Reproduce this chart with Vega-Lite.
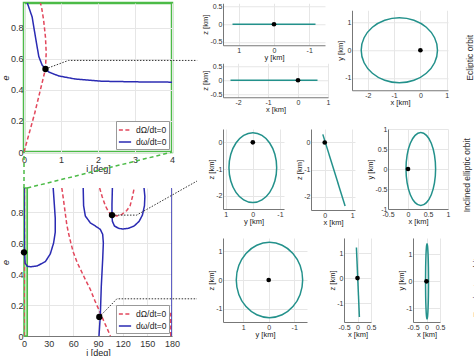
{
 "$schema": "https://vega.github.io/schema/vega-lite/v6.json",
 "padding": {"left": 0, "top": 1, "right": 0, "bottom": 0},
 "config": {
  "font": "Liberation Sans",
  "view": {"stroke": null},
  "axis": {"labelFontSize": 7, "titleFontSize": 7.5, "titleFontWeight": "normal", "labelColor": "#333", "titleColor": "#222", "gridColor": "#e6e6e6", "domainColor": "#777", "ticks": false, "labelPadding": 1, "titlePadding": 0, "format": ".1~f", "labelOverlap": false, "labelFlush": false, "labelExpr": "replace(datum.label, '\u2212', '-')"},
  "title": {"fontSize": 8.5, "fontWeight": "normal", "color": "#333"},
  "legend": {"orient": "bottom-right", "labelFontSize": 8.5, "symbolType": "stroke", "symbolStrokeWidth": 1.5, "symbolSize": 150, "padding": 2, "rowPadding": 0, "offset": 3, "strokeColor": "#999", "fillColor": "white", "labelColor": "#222"}
 },
 "datasets": {
  "curves": [
   {"p":"z","s":"dΩ/dt=0","g":"zr","k":0,"i":0,"e":0},
   {"p":"z","s":"dΩ/dt=0","g":"zr","k":1,"i":0.29,"e":0.25},
   {"p":"z","s":"dΩ/dt=0","g":"zr","k":2,"i":0.58,"e":0.535},
   {"p":"z","s":"dΩ/dt=0","g":"zr","k":3,"i":0.6,"e":0.64},
   {"p":"z","s":"dΩ/dt=0","g":"zr","k":4,"i":0.58,"e":0.74},
   {"p":"z","s":"dΩ/dt=0","g":"zr","k":5,"i":0.53,"e":0.85},
   {"p":"z","s":"dΩ/dt=0","g":"zr","k":6,"i":0.47,"e":0.94},
   {"p":"z","s":"dΩ/dt=0","g":"zr","k":7,"i":0.44,"e":0.96},
   {"p":"z","s":"dω/dt=0","g":"zb","k":0,"i":0.09,"e":0.96},
   {"p":"z","s":"dω/dt=0","g":"zb","k":1,"i":0.22,"e":0.87},
   {"p":"z","s":"dω/dt=0","g":"zb","k":2,"i":0.31,"e":0.74},
   {"p":"z","s":"dω/dt=0","g":"zb","k":3,"i":0.4,"e":0.615},
   {"p":"z","s":"dω/dt=0","g":"zb","k":4,"i":0.49,"e":0.56},
   {"p":"z","s":"dω/dt=0","g":"zb","k":5,"i":0.58,"e":0.535},
   {"p":"z","s":"dω/dt=0","g":"zb","k":6,"i":0.67,"e":0.515},
   {"p":"z","s":"dω/dt=0","g":"zb","k":7,"i":0.94,"e":0.49},
   {"p":"z","s":"dω/dt=0","g":"zb","k":8,"i":1.39,"e":0.47},
   {"p":"z","s":"dω/dt=0","g":"zb","k":9,"i":2.1,"e":0.456},
   {"p":"z","s":"dω/dt=0","g":"zb","k":10,"i":3.0,"e":0.452},
   {"p":"z","s":"dω/dt=0","g":"zb","k":11,"i":4,"e":0.45},
   {"p":"f","s":"dΩ/dt=0","g":"r1","k":0,"i":0,"e":0},
   {"p":"f","s":"dΩ/dt=0","g":"r1","k":1,"i":0.6,"e":0.53},
   {"p":"f","s":"dΩ/dt=0","g":"r1","k":2,"i":0.45,"e":0.955},
   {"p":"f","s":"dΩ/dt=0","g":"r2","k":0,"i":46,"e":0.955},
   {"p":"f","s":"dΩ/dt=0","g":"r2","k":1,"i":48,"e":0.88},
   {"p":"f","s":"dΩ/dt=0","g":"r2","k":2,"i":50,"e":0.8},
   {"p":"f","s":"dΩ/dt=0","g":"r2","k":3,"i":52,"e":0.72},
   {"p":"f","s":"dΩ/dt=0","g":"r2","k":4,"i":54,"e":0.667},
   {"p":"f","s":"dΩ/dt=0","g":"r2","k":5,"i":57,"e":0.6},
   {"p":"f","s":"dΩ/dt=0","g":"r2","k":6,"i":60,"e":0.54},
   {"p":"f","s":"dΩ/dt=0","g":"r2","k":7,"i":65,"e":0.47},
   {"p":"f","s":"dΩ/dt=0","g":"r2","k":8,"i":70.5,"e":0.41},
   {"p":"f","s":"dΩ/dt=0","g":"r2","k":9,"i":75,"e":0.36},
   {"p":"f","s":"dΩ/dt=0","g":"r2","k":10,"i":80.7,"e":0.3},
   {"p":"f","s":"dΩ/dt=0","g":"r2","k":11,"i":86,"e":0.23},
   {"p":"f","s":"dΩ/dt=0","g":"r2","k":12,"i":91,"e":0.17},
   {"p":"f","s":"dΩ/dt=0","g":"r2","k":13,"i":97,"e":0.097},
   {"p":"f","s":"dΩ/dt=0","g":"r2","k":14,"i":101,"e":0.05},
   {"p":"f","s":"dΩ/dt=0","g":"r2","k":15,"i":105,"e":0},
   {"p":"f","s":"dΩ/dt=0","g":"r3","k":0,"i":92,"e":0.955},
   {"p":"f","s":"dΩ/dt=0","g":"r3","k":1,"i":95,"e":0.9},
   {"p":"f","s":"dΩ/dt=0","g":"r3","k":2,"i":99,"e":0.84},
   {"p":"f","s":"dΩ/dt=0","g":"r3","k":3,"i":103,"e":0.8},
   {"p":"f","s":"dΩ/dt=0","g":"r3","k":4,"i":107,"e":0.78},
   {"p":"f","s":"dΩ/dt=0","g":"r3","k":5,"i":113,"e":0.775},
   {"p":"f","s":"dΩ/dt=0","g":"r3","k":6,"i":119,"e":0.785},
   {"p":"f","s":"dΩ/dt=0","g":"r3","k":7,"i":125,"e":0.81},
   {"p":"f","s":"dΩ/dt=0","g":"r3","k":8,"i":129,"e":0.84},
   {"p":"f","s":"dΩ/dt=0","g":"r3","k":9,"i":132,"e":0.9},
   {"p":"f","s":"dΩ/dt=0","g":"r3","k":10,"i":134,"e":0.955},
   {"p":"f","s":"dΩ/dt=0","g":"r4","k":0,"i":178.5,"e":0},
   {"p":"f","s":"dΩ/dt=0","g":"r4","k":1,"i":178.5,"e":0.15},
   {"p":"f","s":"dω/dt=0","g":"b1","k":0,"i":0.1,"e":0.955},
   {"p":"f","s":"dω/dt=0","g":"b1","k":1,"i":0.3,"e":0.74},
   {"p":"f","s":"dω/dt=0","g":"b1","k":2,"i":0.6,"e":0.53},
   {"p":"f","s":"dω/dt=0","g":"b1","k":3,"i":1.4,"e":0.47},
   {"p":"f","s":"dω/dt=0","g":"b1","k":4,"i":4,"e":0.45},
   {"p":"f","s":"dω/dt=0","g":"b1","k":5,"i":8,"e":0.447},
   {"p":"f","s":"dω/dt=0","g":"b1","k":6,"i":16,"e":0.452},
   {"p":"f","s":"dω/dt=0","g":"b1","k":7,"i":26,"e":0.48},
   {"p":"f","s":"dω/dt=0","g":"b1","k":8,"i":32,"e":0.53},
   {"p":"f","s":"dω/dt=0","g":"b1","k":9,"i":36,"e":0.6},
   {"p":"f","s":"dω/dt=0","g":"b1","k":10,"i":38,"e":0.67},
   {"p":"f","s":"dω/dt=0","g":"b1","k":11,"i":38,"e":0.76},
   {"p":"f","s":"dω/dt=0","g":"b1","k":12,"i":37,"e":0.84},
   {"p":"f","s":"dω/dt=0","g":"b1","k":13,"i":35.5,"e":0.955},
   {"p":"f","s":"dω/dt=0","g":"b2","k":0,"i":72,"e":0.955},
   {"p":"f","s":"dω/dt=0","g":"b2","k":1,"i":72.5,"e":0.84},
   {"p":"f","s":"dω/dt=0","g":"b2","k":2,"i":74.6,"e":0.774},
   {"p":"f","s":"dω/dt=0","g":"b2","k":3,"i":80.7,"e":0.73},
   {"p":"f","s":"dω/dt=0","g":"b2","k":4,"i":86.7,"e":0.71},
   {"p":"f","s":"dω/dt=0","g":"b2","k":5,"i":92.8,"e":0.688},
   {"p":"f","s":"dω/dt=0","g":"b2","k":6,"i":95.7,"e":0.656},
   {"p":"f","s":"dω/dt=0","g":"b2","k":7,"i":96.5,"e":0.6},
   {"p":"f","s":"dω/dt=0","g":"b2","k":8,"i":95.7,"e":0.495},
   {"p":"f","s":"dω/dt=0","g":"b2","k":9,"i":94,"e":0.32},
   {"p":"f","s":"dω/dt=0","g":"b2","k":10,"i":92.8,"e":0.13},
   {"p":"f","s":"dω/dt=0","g":"b2","k":11,"i":91.2,"e":0},
   {"p":"f","s":"dω/dt=0","g":"b3","k":0,"i":107.5,"e":0.955},
   {"p":"f","s":"dω/dt=0","g":"b3","k":1,"i":107,"e":0.85},
   {"p":"f","s":"dω/dt=0","g":"b3","k":2,"i":107,"e":0.78},
   {"p":"f","s":"dω/dt=0","g":"b3","k":3,"i":107.5,"e":0.74},
   {"p":"f","s":"dω/dt=0","g":"b3","k":4,"i":110,"e":0.71},
   {"p":"f","s":"dω/dt=0","g":"b3","k":5,"i":115,"e":0.695},
   {"p":"f","s":"dω/dt=0","g":"b3","k":6,"i":120,"e":0.69},
   {"p":"f","s":"dω/dt=0","g":"b3","k":7,"i":127,"e":0.695},
   {"p":"f","s":"dω/dt=0","g":"b3","k":8,"i":134,"e":0.71},
   {"p":"f","s":"dω/dt=0","g":"b3","k":9,"i":140,"e":0.74},
   {"p":"f","s":"dω/dt=0","g":"b3","k":10,"i":144,"e":0.78},
   {"p":"f","s":"dω/dt=0","g":"b3","k":11,"i":146.5,"e":0.84},
   {"p":"f","s":"dω/dt=0","g":"b3","k":12,"i":147,"e":0.9},
   {"p":"f","s":"dω/dt=0","g":"b3","k":13,"i":146,"e":0.955},
   {"p":"f","s":"dω/dt=0","g":"b4","k":0,"i":180,"e":0},
   {"p":"f","s":"dω/dt=0","g":"b4","k":1,"i":180,"e":0.955}
  ],
  "dots": [
   {"p":"z","i":0.58,"e":0.535},
   {"p":"f","i":0,"e":0.54},
   {"p":"f","i":107,"e":0.78},
   {"p":"f","i":91.6,"e":0.123}
  ],
  "links": [
   {"p":"z","g":"z1","k":0,"i":0.58,"e":0.535},
   {"p":"z","g":"z1","k":1,"i":1.2,"e":0.59},
   {"p":"z","g":"z1","k":2,"i":4.68,"e":0.59},
   {"p":"f","g":"f1","k":0,"i":107,"e":0.78},
   {"p":"f","g":"f1","k":1,"i":137,"e":0.78},
   {"p":"f","g":"f1","k":2,"i":210.4,"e":1.0},
   {"p":"f","g":"f2","k":0,"i":91.6,"e":0.123},
   {"p":"f","g":"f2","k":1,"i":113,"e":0.24},
   {"p":"f","g":"f2","k":2,"i":210.4,"e":0.24}
  ],
  "glinks": [
   {"g":"l","k":0,"i":0,"e":0.955},
   {"g":"l","k":1,"i":0,"e":1.187},
   {"g":"r","k":0,"i":4,"e":0.955},
   {"g":"r","k":1,"i":180,"e":1.187}
  ],
  "strip": [{"i":0,"i2":4,"e":0,"e2":0.955}],
  "origin": [{"a":0,"b":0}],
  "orb": [
   {"v":"1a","k":0,"a":1.18,"b":0},{"v":"1a","k":1,"a":-1.18,"b":0},
   {"v":"1b","k":0,"a":-2.25,"b":0},{"v":"1b","k":1,"a":0.65,"b":0},
   {"v":"1c","k":0,"a":0.65,"b":0},{"v":"1c","k":1,"a":0.54,"b":0.452},{"v":"1c","k":2,"a":0.225,"b":0.834},{"v":"1c","k":3,"a":-0.245,"b":1.09},
   {"v":"1c","k":4,"a":-0.8,"b":1.18},{"v":"1c","k":5,"a":-1.355,"b":1.09},{"v":"1c","k":6,"a":-1.825,"b":0.834},{"v":"1c","k":7,"a":-2.14,"b":0.452},
   {"v":"1c","k":8,"a":-2.25,"b":0},{"v":"1c","k":9,"a":-2.14,"b":-0.452},{"v":"1c","k":10,"a":-1.825,"b":-0.834},{"v":"1c","k":11,"a":-1.355,"b":-1.09},
   {"v":"1c","k":12,"a":-0.8,"b":-1.18},{"v":"1c","k":13,"a":-0.245,"b":-1.09},{"v":"1c","k":14,"a":0.225,"b":-0.834},{"v":"1c","k":15,"a":0.54,"b":-0.452},
   {"v":"2a","k":0,"a":0.88,"b":-0.95},{"v":"2a","k":1,"a":0.813,"b":-0.449},{"v":"2a","k":2,"a":0.622,"b":-0.024},{"v":"2a","k":3,"a":0.337,"b":0.26},
   {"v":"2a","k":4,"a":0,"b":0.36},{"v":"2a","k":5,"a":-0.337,"b":0.26},{"v":"2a","k":6,"a":-0.622,"b":-0.024},{"v":"2a","k":7,"a":-0.813,"b":-0.449},
   {"v":"2a","k":8,"a":-0.88,"b":-0.95},{"v":"2a","k":9,"a":-0.813,"b":-1.451},{"v":"2a","k":10,"a":-0.622,"b":-1.876},{"v":"2a","k":11,"a":-0.337,"b":-2.16},
   {"v":"2a","k":12,"a":0,"b":-2.26},{"v":"2a","k":13,"a":0.337,"b":-2.16},{"v":"2a","k":14,"a":0.622,"b":-1.876},{"v":"2a","k":15,"a":0.813,"b":-1.451},
   {"v":"2b","k":0,"a":-0.07,"b":0.3},{"v":"2b","k":1,"a":0.74,"b":-2.35},
   {"v":"2c","k":0,"a":0.69,"b":0},{"v":"2c","k":1,"a":0.662,"b":0.348},{"v":"2c","k":2,"a":0.582,"b":0.644},{"v":"2c","k":3,"a":0.462,"b":0.841},
   {"v":"2c","k":4,"a":0.32,"b":0.91},{"v":"2c","k":5,"a":0.178,"b":0.841},{"v":"2c","k":6,"a":0.058,"b":0.644},{"v":"2c","k":7,"a":-0.022,"b":0.348},
   {"v":"2c","k":8,"a":-0.05,"b":0},{"v":"2c","k":9,"a":-0.022,"b":-0.348},{"v":"2c","k":10,"a":0.058,"b":-0.644},{"v":"2c","k":11,"a":0.178,"b":-0.841},
   {"v":"2c","k":12,"a":0.32,"b":-0.91},{"v":"2c","k":13,"a":0.462,"b":-0.841},{"v":"2c","k":14,"a":0.582,"b":-0.644},{"v":"2c","k":15,"a":0.662,"b":-0.348},
   {"v":"3a","k":0,"a":1.27,"b":0},{"v":"3a","k":1,"a":1.171,"b":0.4975},{"v":"3a","k":2,"a":0.889,"b":0.919},{"v":"3a","k":3,"a":0.4675,"b":1.201},
   {"v":"3a","k":4,"a":-0.03,"b":1.3},{"v":"3a","k":5,"a":-0.5275,"b":1.201},{"v":"3a","k":6,"a":-0.949,"b":0.919},{"v":"3a","k":7,"a":-1.231,"b":0.4975},
   {"v":"3a","k":8,"a":-1.33,"b":0},{"v":"3a","k":9,"a":-1.231,"b":-0.4975},{"v":"3a","k":10,"a":-0.949,"b":-0.919},{"v":"3a","k":11,"a":-0.5275,"b":-1.201},
   {"v":"3a","k":12,"a":-0.03,"b":-1.3},{"v":"3a","k":13,"a":0.4675,"b":-1.201},{"v":"3a","k":14,"a":0.889,"b":-0.919},{"v":"3a","k":15,"a":1.171,"b":-0.4975},
   {"v":"3b","k":0,"a":-0.04,"b":1.22},{"v":"3b","k":1,"a":0.07,"b":-1.55},
   {"v":"3c","k":0,"a":0.075,"b":0},{"v":"3c","k":1,"a":0.071,"b":0.532},{"v":"3c","k":2,"a":0.059,"b":0.983},{"v":"3c","k":3,"a":0.041,"b":1.284},
   {"v":"3c","k":4,"a":0.02,"b":1.39},{"v":"3c","k":5,"a":-0.001,"b":1.284},{"v":"3c","k":6,"a":-0.019,"b":0.983},{"v":"3c","k":7,"a":-0.031,"b":0.532},
   {"v":"3c","k":8,"a":-0.035,"b":0},{"v":"3c","k":9,"a":-0.031,"b":-0.532},{"v":"3c","k":10,"a":-0.019,"b":-0.983},{"v":"3c","k":11,"a":-0.001,"b":-1.284},
   {"v":"3c","k":12,"a":0.02,"b":-1.39},{"v":"3c","k":13,"a":0.041,"b":-1.284},{"v":"3c","k":14,"a":0.059,"b":-0.983},{"v":"3c","k":15,"a":0.071,"b":-0.532}
  ]
 },
 "spacing": 0,
 "hconcat": [
  {
   "bounds": "flush",
   "spacing": 36,
   "resolve": {"scale": {"color": "independent", "strokeDash": "independent"}, "legend": {"color": "independent", "strokeDash": "independent"}},
   "vconcat": [
    {
     "width": 148, "height": 149,
     "view": {"stroke": "#4cbb47", "strokeWidth": 2.5},
     "encoding": {
      "x": {"field": "i", "type": "quantitative", "scale": {"domain": [0, 4], "nice": false}, "axis": {"values": [0,1,2,3,4], "format": "d", "labelOverlap": false, "title": "i [deg]", "labelFontSize": 9, "titleFontSize": 9, "domain": false, "labelPadding": 3, "titlePadding": 0}},
      "y": {"field": "e", "type": "quantitative", "scale": {"domain": [0, 0.96], "nice": false}, "axis": {"values": [0,0.2,0.4,0.6,0.8], "labelOverlap": false, "title": "e", "titleFontStyle": "italic", "labelFontSize": 9, "titleFontSize": 9, "domain": false, "labelPadding": 1}}
     },
     "layer": [
      {
       "data": {"name": "curves"}, "transform": [{"filter": "datum.p == 'z'"}],
       "mark": {"type": "line", "clip": true, "strokeWidth": 1.5},
       "encoding": {
        "color": {"field": "s", "type": "nominal", "scale": {"domain": ["dΩ/dt=0", "dω/dt=0"], "range": ["#e2475c", "#2b2bb3"]}, "legend": {"title": null, "orient": "bottom-right"}},
        "strokeDash": {"field": "s", "type": "nominal", "scale": {"domain": ["dΩ/dt=0", "dω/dt=0"], "range": [[4, 2.5], [1, 0]]}, "legend": {"title": null, "orient": "bottom-right"}},
        "detail": {"field": "g"},
        "order": {"field": "k", "type": "quantitative"}
       }
      },
      {
       "data": {"name": "links"}, "transform": [{"filter": "datum.p == 'z'"}],
       "mark": {"type": "line", "clip": false, "color": "#333", "strokeWidth": 1, "strokeDash": [1.5, 1.5]},
       "encoding": {"detail": {"field": "g"}, "order": {"field": "k", "type": "quantitative"}}
      },
      {
       "data": {"name": "dots"}, "transform": [{"filter": "datum.p == 'z'"}],
       "mark": {"type": "point", "filled": true, "color": "black", "size": 40, "opacity": 1}
      }
     ]
    },
    {
     "width": 148, "height": 148,
     "encoding": {
      "x": {"field": "i", "type": "quantitative", "scale": {"domain": [0, 180], "nice": false}, "axis": {"values": [0,30,60,90,120,150,180], "format": "d", "labelOverlap": false, "title": "i [deg]", "labelFontSize": 9, "titleFontSize": 9, "labelPadding": 3, "titlePadding": 0}},
      "y": {"field": "e", "type": "quantitative", "scale": {"domain": [0, 0.955], "nice": false}, "axis": {"values": [0,0.2,0.4,0.6,0.8], "labelOverlap": false, "title": "e", "titleFontStyle": "italic", "labelFontSize": 9, "titleFontSize": 9, "labelPadding": 1}}
     },
     "layer": [
      {
       "data": {"name": "strip"},
       "mark": {"type": "rect", "fill": "#c5ebb8", "stroke": "#4cbb47", "strokeWidth": 1.5},
       "encoding": {"x2": {"field": "i2"}, "y2": {"field": "e2"}}
      },
      {
       "data": {"name": "glinks"},
       "mark": {"type": "line", "clip": false, "color": "#4cbb47", "strokeWidth": 1.5, "strokeDash": [4, 3]},
       "encoding": {"detail": {"field": "g"}, "order": {"field": "k", "type": "quantitative"}}
      },
      {
       "data": {"name": "curves"}, "transform": [{"filter": "datum.p == 'f'"}],
       "mark": {"type": "line", "clip": true, "strokeWidth": 1.5},
       "encoding": {
        "color": {"field": "s", "type": "nominal", "scale": {"domain": ["dΩ/dt=0", "dω/dt=0"], "range": ["#e2475c", "#2b2bb3"]}, "legend": {"title": null, "orient": "bottom-right"}},
        "strokeDash": {"field": "s", "type": "nominal", "scale": {"domain": ["dΩ/dt=0", "dω/dt=0"], "range": [[4, 2.5], [1, 0]]}, "legend": {"title": null, "orient": "bottom-right"}},
        "detail": {"field": "g"},
        "order": {"field": "k", "type": "quantitative"}
       }
      },
      {
       "data": {"name": "links"}, "transform": [{"filter": "datum.p == 'f'"}],
       "mark": {"type": "line", "clip": false, "color": "#333", "strokeWidth": 1, "strokeDash": [1.5, 1.5]},
       "encoding": {"detail": {"field": "g"}, "order": {"field": "k", "type": "quantitative"}}
      },
      {
       "data": {"name": "dots"}, "transform": [{"filter": "datum.p == 'f'"}],
       "mark": {"type": "point", "filled": true, "color": "black", "size": 40, "opacity": 1}
      }
     ]
    }
   ]
  },
  {
   "spacing": 12,
   "vconcat": [
    {
     "title": {"text": "Ecliptic orbit", "orient": "right", "angle": -90, "anchor": "middle", "offset": 9},
     "spacing": 6,
     "center": true,
     "hconcat": [
      {
       "spacing": 0,
       "vconcat": [
        {
         "width": 102, "height": 42,
         "encoding": {
          "x": {"field": "a", "type": "quantitative", "scale": {"domain": [-1.45, 1.45], "nice": false, "reverse": true}, "axis": {"values": [-1, 0, 1], "labelOverlap": false, "title": "y [km]"}},
          "y": {"field": "b", "type": "quantitative", "scale": {"domain": [-0.6, 0.6], "nice": false}, "axis": {"values": [-0.5, 0, 0.5], "labelOverlap": false, "title": "z [km]"}}
         },
         "layer": [
          {"data": {"name": "orb"}, "transform": [{"filter": "datum.v == '1a'"}],
           "mark": {"type": "line", "color": "#23918b", "strokeWidth": 1.5, "clip": true},
           "encoding": {"order": {"field": "k", "type": "quantitative"}}},
          {"data": {"name": "origin"}, "mark": {"type": "point", "filled": true, "color": "black", "size": 22, "opacity": 1}}
         ]
        },
        {
         "width": 105, "height": 34,
         "encoding": {
          "x": {"field": "a", "type": "quantitative", "scale": {"domain": [-2.5, 1], "nice": false}, "axis": {"values": [-2, -1, 0, 1], "labelOverlap": false, "title": "x [km]"}},
          "y": {"field": "b", "type": "quantitative", "scale": {"domain": [-0.6, 0.6], "nice": false}, "axis": {"values": [-0.5, 0, 0.5], "labelOverlap": false, "title": "z [km]"}}
         },
         "layer": [
          {"data": {"name": "orb"}, "transform": [{"filter": "datum.v == '1b'"}],
           "mark": {"type": "line", "color": "#23918b", "strokeWidth": 1.5, "clip": true},
           "encoding": {"order": {"field": "k", "type": "quantitative"}}},
          {"data": {"name": "origin"}, "mark": {"type": "point", "filled": true, "color": "black", "size": 22, "opacity": 1}}
         ]
        }
       ]
      },
      {
       "width": 96, "height": 80,
       "encoding": {
        "x": {"field": "a", "type": "quantitative", "scale": {"domain": [-2.6, 1.05], "nice": false}, "axis": {"values": [-2, -1, 0, 1], "labelOverlap": false, "title": "x [km]"}},
        "y": {"field": "b", "type": "quantitative", "scale": {"domain": [-1.45, 1.45], "nice": false}, "axis": {"values": [-1, 0, 1], "labelOverlap": false, "title": "y [km]"}}
       },
       "layer": [
        {"data": {"name": "orb"}, "transform": [{"filter": "datum.v == '1c'"}],
         "mark": {"type": "line", "color": "#23918b", "strokeWidth": 1.5, "interpolate": "cardinal-closed", "clip": true},
         "encoding": {"order": {"field": "k", "type": "quantitative"}}},
        {"data": {"name": "origin"}, "mark": {"type": "point", "filled": true, "color": "black", "size": 22, "opacity": 1}}
       ]
      }
     ]
    },
    {
     "title": {"text": "Inclined elliptic orbit", "orient": "right", "angle": -90, "anchor": "middle", "offset": 5},
     "spacing": 11,
     "hconcat": [
      {
       "width": 61, "height": 80,
       "encoding": {
        "x": {"field": "a", "type": "quantitative", "scale": {"domain": [-1.15, 1.1], "nice": false, "reverse": true}, "axis": {"values": [-1, 0, 1], "labelOverlap": false, "title": "y [km]"}},
        "y": {"field": "b", "type": "quantitative", "scale": {"domain": [-2.5, 0.5], "nice": false}, "axis": {"values": [-2, -1, 0], "labelOverlap": false, "title": "z [km]"}}
       },
       "layer": [
        {"data": {"name": "orb"}, "transform": [{"filter": "datum.v == '2a'"}],
         "mark": {"type": "line", "color": "#23918b", "strokeWidth": 1.5, "interpolate": "cardinal-closed", "clip": true},
         "encoding": {"order": {"field": "k", "type": "quantitative"}}},
        {"data": {"name": "origin"}, "mark": {"type": "point", "filled": true, "color": "black", "size": 22, "opacity": 1}}
       ]
      },
      {
       "width": 44, "height": 81,
       "encoding": {
        "x": {"field": "a", "type": "quantitative", "scale": {"domain": [-0.5, 1.1], "nice": false}, "axis": {"values": [0, 1], "labelOverlap": false, "title": "x [km]"}},
        "y": {"field": "b", "type": "quantitative", "scale": {"domain": [-2.5, 0.5], "nice": false}, "axis": {"values": [-2, -1, 0], "labelOverlap": false, "title": "z [km]"}}
       },
       "layer": [
        {"data": {"name": "orb"}, "transform": [{"filter": "datum.v == '2b'"}],
         "mark": {"type": "line", "color": "#23918b", "strokeWidth": 1.5, "clip": true},
         "encoding": {"order": {"field": "k", "type": "quantitative"}}},
        {"data": {"name": "origin"}, "mark": {"type": "point", "filled": true, "color": "black", "size": 22, "opacity": 1}}
       ]
      },
      {
       "width": 60, "height": 80,
       "encoding": {
        "x": {"field": "a", "type": "quantitative", "scale": {"domain": [-0.5, 1], "nice": false}, "axis": {"values": [-0.5, 0, 0.5, 1], "labelOverlap": false, "title": "x [km]"}},
        "y": {"field": "b", "type": "quantitative", "scale": {"domain": [-1, 1], "nice": false}, "axis": {"values": [-1, -0.5, 0, 0.5, 1], "labelOverlap": false, "title": "y [km]"}}
       },
       "layer": [
        {"data": {"name": "orb"}, "transform": [{"filter": "datum.v == '2c'"}],
         "mark": {"type": "line", "color": "#23918b", "strokeWidth": 1.5, "interpolate": "cardinal-closed", "clip": true},
         "encoding": {"order": {"field": "k", "type": "quantitative"}}},
        {"data": {"name": "origin"}, "mark": {"type": "point", "filled": true, "color": "black", "size": 22, "opacity": 1}}
       ]
      }
     ]
    },
    {
     "title": {"text": "Terminator orbit", "orient": "right", "angle": -90, "anchor": "middle", "offset": 20},
     "spacing": 21,
     "hconcat": [
      {
       "width": 84, "height": 84,
       "encoding": {
        "x": {"field": "a", "type": "quantitative", "scale": {"domain": [-1.5, 1.79], "nice": false, "reverse": true}, "axis": {"values": [-1, 0, 1], "labelOverlap": false, "title": "y [km]"}},
        "y": {"field": "b", "type": "quantitative", "scale": {"domain": [-1.45, 1.45], "nice": false}, "axis": {"values": [-1, 0, 1], "labelOverlap": false, "title": "z [km]"}}
       },
       "layer": [
        {"data": {"name": "orb"}, "transform": [{"filter": "datum.v == '3a'"}],
         "mark": {"type": "line", "color": "#23918b", "strokeWidth": 1.5, "interpolate": "cardinal-closed", "clip": true},
         "encoding": {"order": {"field": "k", "type": "quantitative"}}},
        {"data": {"name": "origin"}, "mark": {"type": "point", "filled": true, "color": "black", "size": 22, "opacity": 1}}
       ]
      },
      {
       "width": 27, "height": 84,
       "encoding": {
        "x": {"field": "a", "type": "quantitative", "scale": {"domain": [-0.5, 0.5], "nice": false}, "axis": {"values": [-0.5, 0, 0.5], "labelOverlap": false, "title": "x [km]"}},
        "y": {"field": "b", "type": "quantitative", "scale": {"domain": [-1.75, 1.6], "nice": false}, "axis": {"values": [-1, 0, 1], "labelOverlap": false, "title": "z [km]"}}
       },
       "layer": [
        {"data": {"name": "orb"}, "transform": [{"filter": "datum.v == '3b'"}],
         "mark": {"type": "line", "color": "#23918b", "strokeWidth": 1.5, "clip": true},
         "encoding": {"order": {"field": "k", "type": "quantitative"}}},
        {"data": {"name": "origin"}, "mark": {"type": "point", "filled": true, "color": "black", "size": 22, "opacity": 1}}
       ]
      },
      {
       "width": 27, "height": 84,
       "encoding": {
        "x": {"field": "a", "type": "quantitative", "scale": {"domain": [-0.5, 0.5], "nice": false}, "axis": {"values": [-0.5, 0, 0.5], "labelOverlap": false, "title": "x [km]"}},
        "y": {"field": "b", "type": "quantitative", "scale": {"domain": [-1.5, 1.6], "nice": false}, "axis": {"values": [-1, 0, 1], "labelOverlap": false, "title": "y [km]"}}
       },
       "layer": [
        {"data": {"name": "orb"}, "transform": [{"filter": "datum.v == '3c'"}],
         "mark": {"type": "line", "color": "#23918b", "strokeWidth": 1.5, "interpolate": "cardinal-closed", "clip": true},
         "encoding": {"order": {"field": "k", "type": "quantitative"}}},
        {"data": {"name": "origin"}, "mark": {"type": "point", "filled": true, "color": "black", "size": 22, "opacity": 1}}
       ]
      }
     ]
    }
   ]
  }
 ]
}
